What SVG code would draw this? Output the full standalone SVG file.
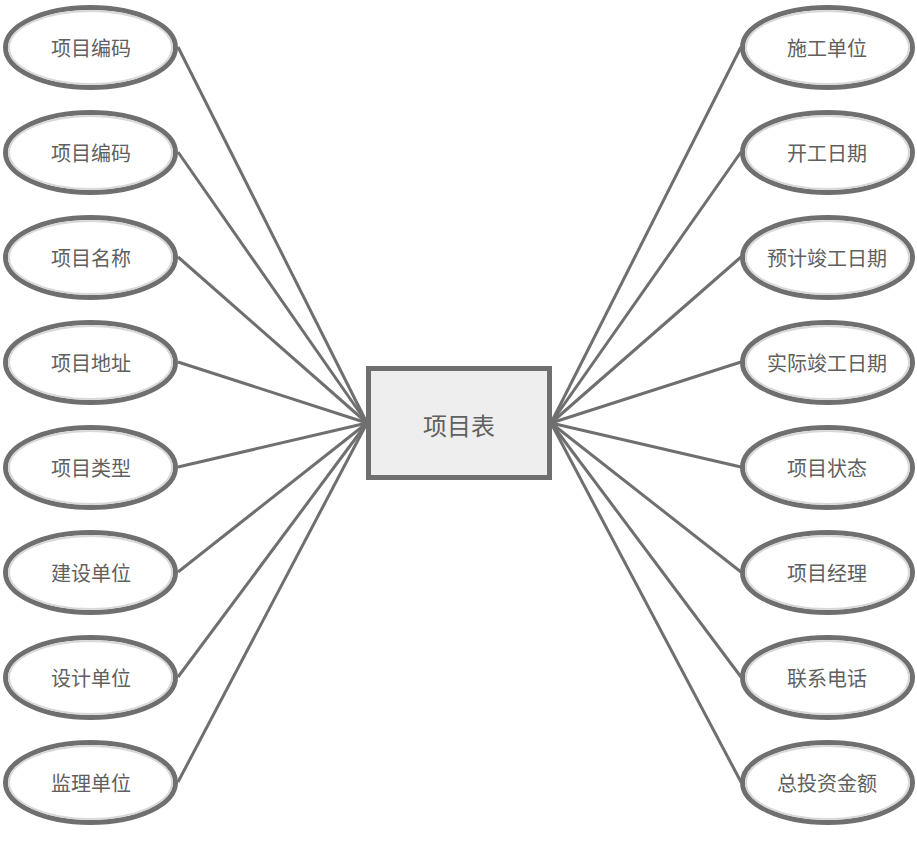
<svg xmlns="http://www.w3.org/2000/svg" width="917" height="846" viewBox="0 0 917 846">
<style>
.e{fill:#ffffff;stroke:#6f6f6f;stroke-width:5}
.g{fill:none;stroke:#d8d8d8;stroke-width:2}
.t{font-family:"Noto Sans CJK SC","Liberation Sans",sans-serif;font-size:20px;fill:#606060;text-anchor:middle;dominant-baseline:central}
.c line{stroke:#6f6f6f;stroke-width:3}
</style>
<rect width="917" height="846" fill="#ffffff"/>
<g id="connectors" class="c">
<line x1="178" y1="47" x2="367" y2="423"/>
<line x1="178" y1="152" x2="367" y2="423"/>
<line x1="178" y1="257" x2="367" y2="423"/>
<line x1="178" y1="362" x2="367" y2="423"/>
<line x1="178" y1="467" x2="367" y2="423"/>
<line x1="178" y1="572" x2="367" y2="423"/>
<line x1="178" y1="677" x2="367" y2="423"/>
<line x1="178" y1="782" x2="367" y2="423"/>
<line x1="741" y1="47" x2="551" y2="423"/>
<line x1="741" y1="152" x2="551" y2="423"/>
<line x1="741" y1="257" x2="551" y2="423"/>
<line x1="741" y1="362" x2="551" y2="423"/>
<line x1="741" y1="467" x2="551" y2="423"/>
<line x1="741" y1="572" x2="551" y2="423"/>
<line x1="741" y1="677" x2="551" y2="423"/>
<line x1="741" y1="782" x2="551" y2="423"/>
</g>
<g id="center">
<rect x="368.5" y="368.5" width="181" height="109" fill="#eeeeee" stroke="#6f6f6f" stroke-width="5"/>
<text x="459" y="424" class="t" style="font-size:24px">项目表</text>
</g>
<g id="l1"><ellipse class="e" cx="90.5" cy="47.5" rx="85" ry="40"/><ellipse class="g" cx="90.5" cy="47.5" rx="81.5" ry="36.5"/><text class="t" x="91" y="47">项目编码</text></g>
<g id="l2"><ellipse class="e" cx="90.5" cy="152.5" rx="85" ry="40"/><ellipse class="g" cx="90.5" cy="152.5" rx="81.5" ry="36.5"/><text class="t" x="91" y="152">项目编码</text></g>
<g id="l3"><ellipse class="e" cx="90.5" cy="257.5" rx="85" ry="40"/><ellipse class="g" cx="90.5" cy="257.5" rx="81.5" ry="36.5"/><text class="t" x="91" y="257">项目名称</text></g>
<g id="l4"><ellipse class="e" cx="90.5" cy="362.5" rx="85" ry="40"/><ellipse class="g" cx="90.5" cy="362.5" rx="81.5" ry="36.5"/><text class="t" x="91" y="362">项目地址</text></g>
<g id="l5"><ellipse class="e" cx="90.5" cy="467.5" rx="85" ry="40"/><ellipse class="g" cx="90.5" cy="467.5" rx="81.5" ry="36.5"/><text class="t" x="91" y="467">项目类型</text></g>
<g id="l6"><ellipse class="e" cx="90.5" cy="572.5" rx="85" ry="40"/><ellipse class="g" cx="90.5" cy="572.5" rx="81.5" ry="36.5"/><text class="t" x="91" y="572">建设单位</text></g>
<g id="l7"><ellipse class="e" cx="90.5" cy="677.5" rx="85" ry="40"/><ellipse class="g" cx="90.5" cy="677.5" rx="81.5" ry="36.5"/><text class="t" x="91" y="677">设计单位</text></g>
<g id="l8"><ellipse class="e" cx="90.5" cy="782.5" rx="85" ry="40"/><ellipse class="g" cx="90.5" cy="782.5" rx="81.5" ry="36.5"/><text class="t" x="91" y="782">监理单位</text></g>
<g id="r1"><ellipse class="e" cx="827.5" cy="47.5" rx="85" ry="40"/><ellipse class="g" cx="827.5" cy="47.5" rx="81.5" ry="36.5"/><text class="t" x="827" y="47">施工单位</text></g>
<g id="r2"><ellipse class="e" cx="827.5" cy="152.5" rx="85" ry="40"/><ellipse class="g" cx="827.5" cy="152.5" rx="81.5" ry="36.5"/><text class="t" x="827" y="152">开工日期</text></g>
<g id="r3"><ellipse class="e" cx="827.5" cy="257.5" rx="85" ry="40"/><ellipse class="g" cx="827.5" cy="257.5" rx="81.5" ry="36.5"/><text class="t" x="827" y="257">预计竣工日期</text></g>
<g id="r4"><ellipse class="e" cx="827.5" cy="362.5" rx="85" ry="40"/><ellipse class="g" cx="827.5" cy="362.5" rx="81.5" ry="36.5"/><text class="t" x="827" y="362">实际竣工日期</text></g>
<g id="r5"><ellipse class="e" cx="827.5" cy="467.5" rx="85" ry="40"/><ellipse class="g" cx="827.5" cy="467.5" rx="81.5" ry="36.5"/><text class="t" x="827" y="467">项目状态</text></g>
<g id="r6"><ellipse class="e" cx="827.5" cy="572.5" rx="85" ry="40"/><ellipse class="g" cx="827.5" cy="572.5" rx="81.5" ry="36.5"/><text class="t" x="827" y="572">项目经理</text></g>
<g id="r7"><ellipse class="e" cx="827.5" cy="677.5" rx="85" ry="40"/><ellipse class="g" cx="827.5" cy="677.5" rx="81.5" ry="36.5"/><text class="t" x="827" y="677">联系电话</text></g>
<g id="r8"><ellipse class="e" cx="827.5" cy="782.5" rx="85" ry="40"/><ellipse class="g" cx="827.5" cy="782.5" rx="81.5" ry="36.5"/><text class="t" x="827" y="782">总投资金额</text></g>
</svg>
